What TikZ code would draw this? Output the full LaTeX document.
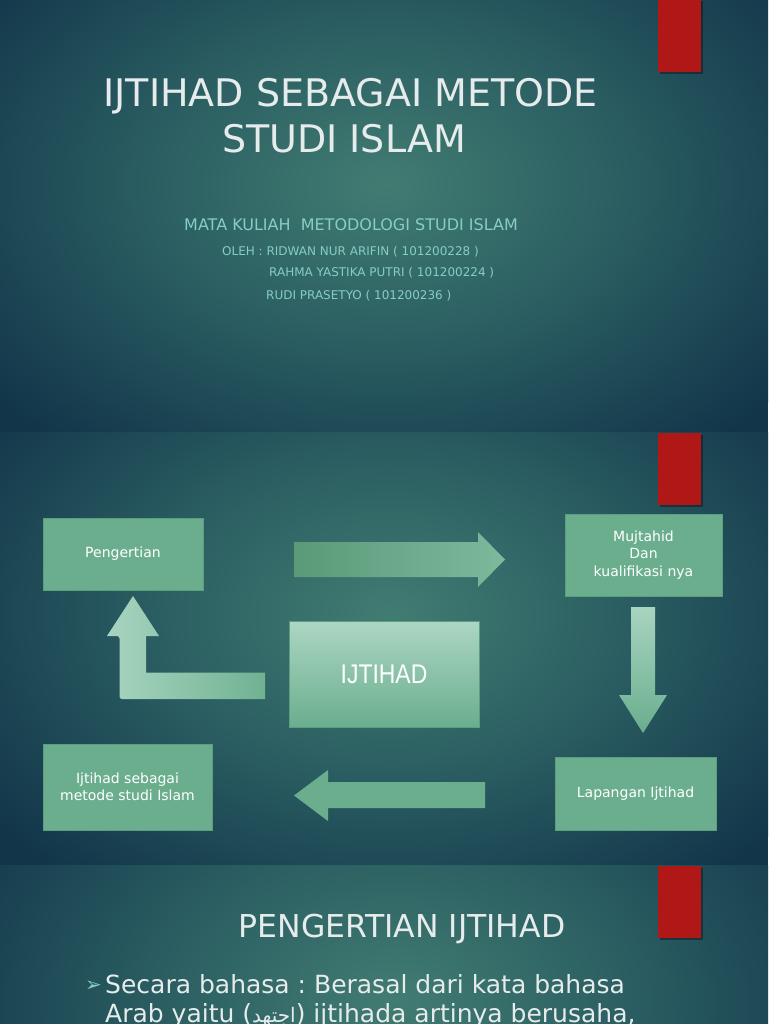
\documentclass[tikz,border=0pt]{standalone}
\usepackage{fontspec}
\setmainfont{DejaVu Sans}
\newfontfamily\narrowfont[FakeStretch=0.85]{Liberation Sans}
\newfontfamily\arabicfont[Script=Arabic]{DejaVu Sans}
\TeXXeTstate=1
\frenchspacing
\definecolor{bgc}{HTML}{12354A}
\definecolor{midc}{HTML}{2A5D61}
\definecolor{glowc}{HTML}{417C72}
\definecolor{redc}{HTML}{B01717}
\definecolor{boxc}{HTML}{6AAE8E}
\definecolor{boxline}{HTML}{5C9E80}
\definecolor{titlec}{HTML}{E6ECEC}
\definecolor{subc}{HTML}{86CDC6}
\definecolor{lightarr}{HTML}{A8D4C0}
\definecolor{darkarr}{HTML}{5A9A78}
\pgfdeclareradialshading{glowshade}{\pgfpoint{0bp}{0bp}}{color(0bp)=(glowc); color(12bp)=(midc); color(25bp)=(bgc); color(50bp)=(bgc)}
\tikzset{
  flowbox/.style={draw=boxline, line width=0.8pt, fill=boxc, text=white, align=center,
    font=\fontsize{14}{17.5}\selectfont, inner sep=0pt},
  redbar/.style={fill=redc},
  barshadow/.style={fill=black, opacity=0.35},
  titletext/.style={text=titlec, inner sep=0pt, font=\fontsize{38}{44}\selectfont},
  subtext/.style={text=subc, inner sep=0pt},
  bodytext/.style={text=titlec, inner sep=0pt, font=\fontsize{25}{30}\selectfont},
}
\begin{document}
\begin{tikzpicture}[x=1pt,y=-1pt]
\useasboundingbox (0,0) rectangle (768,1024);
\begin{scope}
\clip (0,0) rectangle (768,1024);
% ---------- backgrounds
\fill[bgc] (0,0) rectangle (768,1024);
\begin{scope}
\clip (0,0) rectangle (768,432.5);
\shade[shading=glowshade] (385,185) ellipse [x radius=500, y radius=340];
\end{scope}
\begin{scope}
\clip (0,432.5) rectangle (768,865.5);
\shade[shading=glowshade] (390,615) ellipse [x radius=500, y radius=340];
\end{scope}
\begin{scope}
\clip (0,865.5) rectangle (768,1024);
\shade[shading=glowshade] (395,1000) ellipse [x radius=500, y radius=340];
\end{scope}
% ---------- red bars
\foreach \yy in {0,433,866} {
  \fill[barshadow] (659.5,\yy+1.5) rectangle (702.5,\yy+74);
  \fill[redbar] (658,\yy) rectangle (700.5,\yy+72);
}
% ---------- slide 1
\node[titletext, anchor=base] (t1) at (350.5,107) {IJTIHAD SEBAGAI METODE};
\node[titletext, anchor=base] (t2) at (344,153) {STUDI ISLAM};
\node[subtext, anchor=base west, font=\fontsize{16}{19}\selectfont] (s1) at (184,231) {MATA KULIAH\ \ METODOLOGI STUDI ISLAM};
\node[subtext, anchor=base west, font=\fontsize{12}{14}\selectfont] (s2) at (222,255) {OLEH : RIDWAN NUR ARIFIN ( 101200228 )};
\node[subtext, anchor=base west, font=\fontsize{12}{14}\selectfont] (s3) at (269,276) {RAHMA YASTIKA PUTRI ( 101200224 )};
\node[subtext, anchor=base west, font=\fontsize{12}{14}\selectfont] (s4) at (266,299) {RUDI PRASETYO ( 101200236 )};
% ---------- slide 2 boxes
\node[flowbox, minimum width=160, minimum height=72] (pen) at (123,554) {Pengertian};
\node[flowbox, minimum width=157, minimum height=82] (muj) at (643.5,555) {Mujtahid\\Dan\\kualifikasi nya};
\node[draw=boxline, line width=0.5pt, top color=lightarr!95!white, bottom color=boxc, text=white,
  minimum width=190, minimum height=106, inner sep=0pt, font=\narrowfont\fontsize{27}{30}\selectfont] (ijt) at (384,674) {IJTIHAD};
\node[flowbox, minimum width=169, minimum height=86] (ijs) at (127.5,787) {Ijtihad sebagai\\metode studi Islam};
\node[flowbox, minimum width=161, minimum height=73] (lap) at (635.5,793.5) {Lapangan Ijtihad};
% ---------- block arrows
% right arrow (Pengertian -> Mujtahid)
\shade[left color=darkarr, right color=boxc!70!lightarr]
  (294,542) -- (478,542) -- (478,532) -- (505,559.5) -- (478,587) -- (478,577) -- (294,577) -- cycle;
% down arrow (Mujtahid -> Lapangan)
\shade[top color=lightarr, bottom color=boxc]
  (631,607) -- (655,607) -- (655,695) -- (667,695) -- (643,733) -- (619,695) -- (631,695) -- cycle;
% left arrow (Lapangan -> Ijtihad sebagai)
\fill[boxc]
  (485,782) -- (328,782) -- (328,770) -- (294,795.5) -- (328,821) -- (328,808) -- (485,808) -- cycle;
% bent up arrow (-> Pengertian)
\shade[left color=lightarr, right color=boxc!90!lightarr, rounded corners=2.5pt]
  (265,699) -- (119.5,699) -- (119.5,636) [sharp corners] -- (107,636) -- (133,596) -- (159,636) -- (146,636)
  -- (146,672.5) -- (265,672.5) -- cycle;
% ---------- slide 3
\node[text=titlec, inner sep=0pt, anchor=base, font=\fontsize{31.5}{36}\selectfont] (t3) at (402,937) {PENGERTIAN IJTIHAD};
\node[text=subc, inner sep=0pt, anchor=base west, font=\fontsize{20}{22}\selectfont] (bul) at (85,991) {➢};
\node[bodytext, anchor=base west] (b1) at (105,993) {Secara bahasa : Berasal dari kata bahasa};
\node[bodytext, anchor=base west] (b2) at (105,1022) {Arab yaitu ({\arabicfont\fontsize{20}{24}\selectfont\beginR اجتهد\endR}) ijtihada artinya berusaha,};
\end{scope}
\end{tikzpicture}
\end{document}
